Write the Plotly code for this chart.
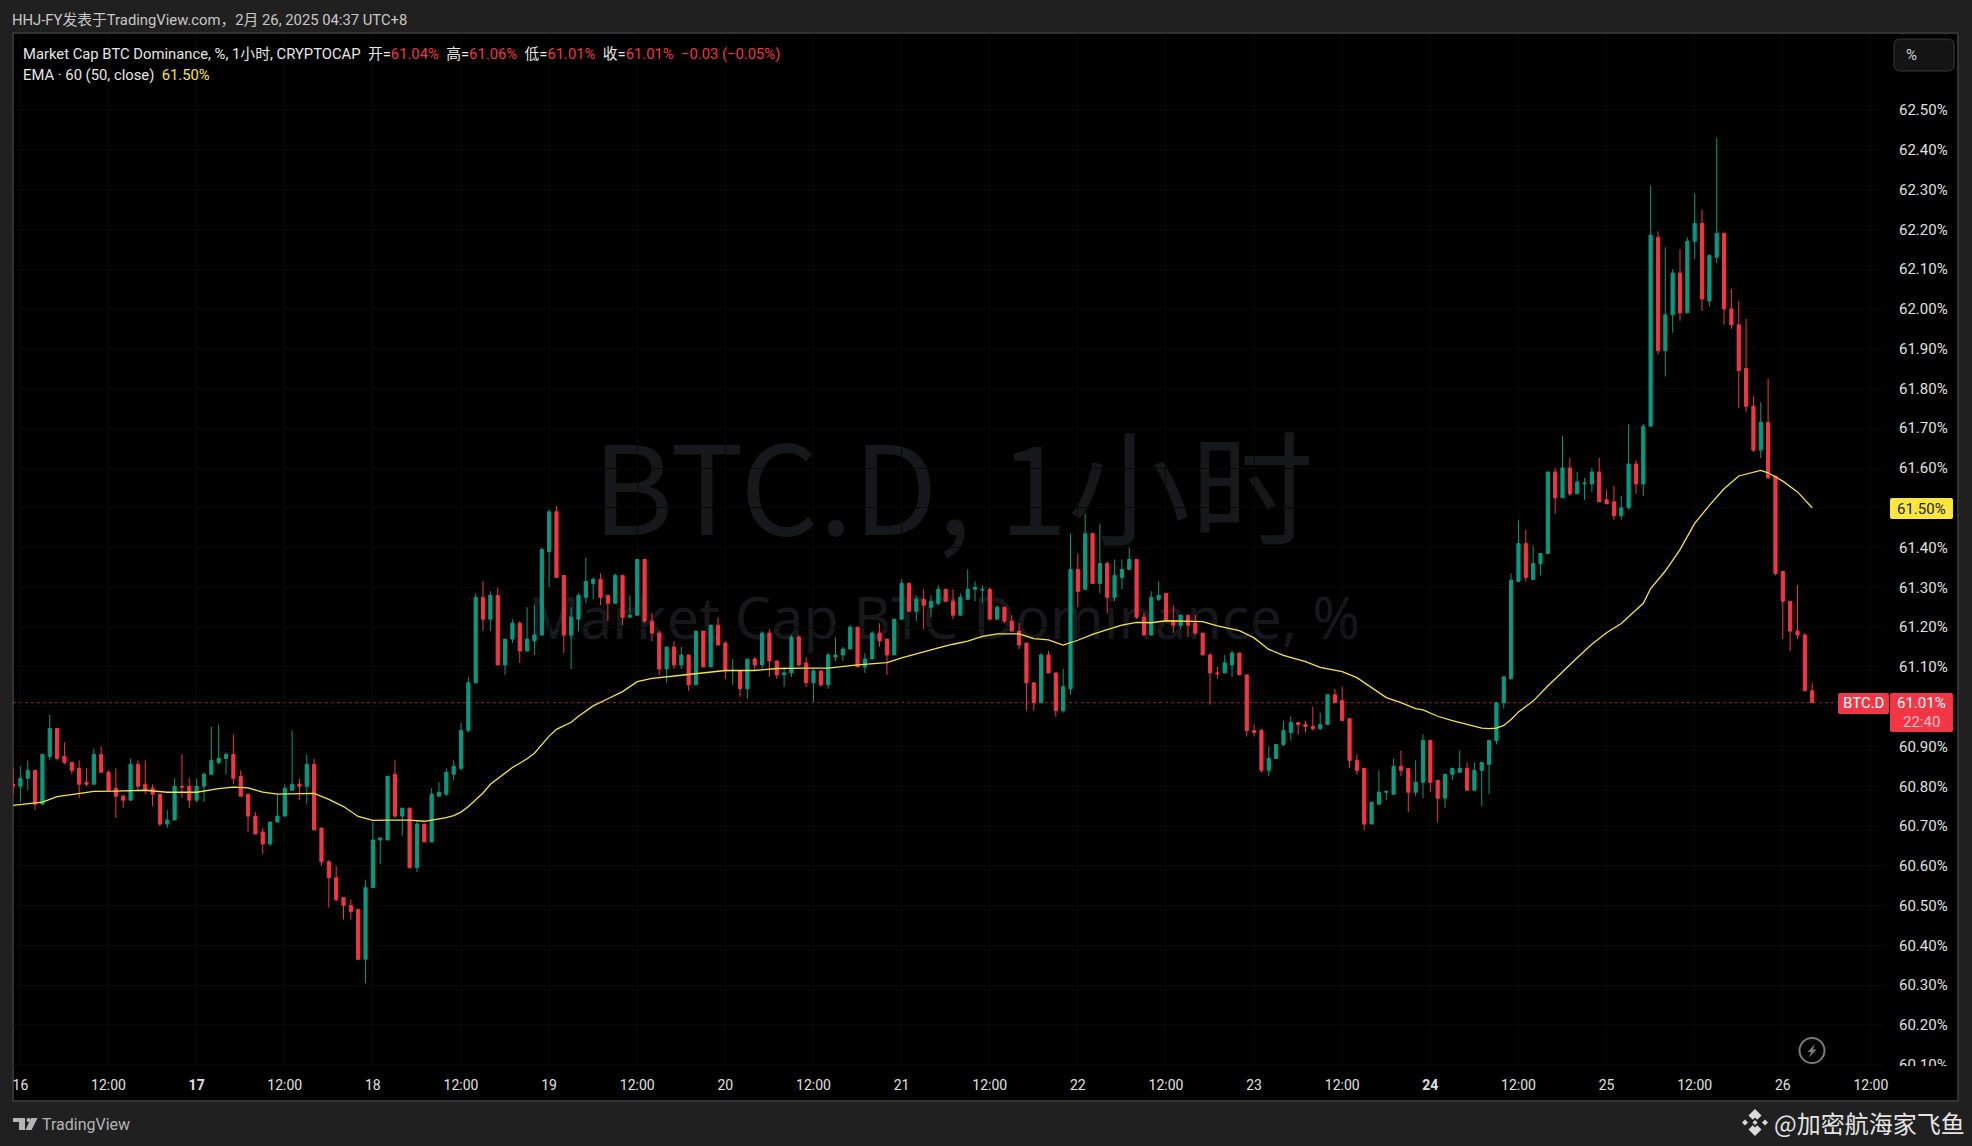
import pandas as pd
import plotly.graph_objects as go

opens = [
 60.805,60.80,60.82,60.84,60.755,60.875,60.945,60.875,60.86,60.845,
 60.81,60.805,60.88,60.835,60.795,60.775,60.765,60.855,60.805,60.795,
 60.78,60.705,60.715,60.80,60.80,60.765,60.80,60.83,60.86,60.87,
 60.88,60.825,60.78,60.725,60.685,60.655,60.71,60.725,60.79,60.805,
 60.80,60.855,60.695,60.61,60.57,60.52,60.50,60.49,60.365,60.545,
 60.665,60.665,60.83,60.725,60.745,60.595,60.705,60.66,60.775,60.78,
 60.83,60.845,60.94,61.06,61.275,61.22,61.28,61.105,61.17,61.21,
 61.14,61.165,61.18,61.39,61.49,61.33,61.18,61.22,61.275,61.31,
 61.32,61.28,61.26,61.33,61.225,61.23,61.37,61.215,61.185,61.095,
 61.15,61.105,61.13,61.055,61.19,61.10,61.205,61.16,61.09,61.09,
 61.045,61.12,61.105,61.185,61.115,61.08,61.085,61.175,61.11,61.06,
 61.09,61.055,61.125,61.13,61.145,61.20,61.10,61.12,61.185,61.17,
 61.13,61.22,61.31,61.24,61.27,61.25,61.26,61.295,61.265,61.23,
 61.27,61.295,61.293,61.295,61.22,61.25,61.215,61.19,61.16,61.06,
 61.01,61.13,61.085,60.99,61.045,61.345,61.295,61.435,61.31,61.36,
 61.275,61.325,61.345,61.37,61.225,61.18,61.27,61.285,61.215,61.205,
 61.23,61.21,61.185,61.13,61.085,61.085,61.105,61.135,61.08,60.94,
 60.94,60.84,60.87,60.905,60.935,60.96,60.955,60.95,60.945,60.955,
 61.03,61.015,60.97,60.865,60.845,60.705,60.755,60.785,60.78,60.85,
 60.845,60.785,60.81,60.915,60.815,60.77,60.83,60.835,60.845,60.79,
 60.84,60.855,60.915,61.01,61.07,61.315,61.41,61.32,61.36,61.385,
 61.59,61.525,61.60,61.535,61.56,61.56,61.59,61.52,61.515,61.48,
 61.50,61.61,61.56,61.705,62.18,61.895,61.985,62.09,61.99,62.17,
 62.215,62.02,62.13,62.19,62.00,61.96,61.85,61.755,61.645,61.715,
 61.58,61.34,61.265,61.19,61.18,61.04]

highs = [
 60.845,60.85,60.865,60.84,60.88,60.98,60.945,60.91,60.86,60.865,
 60.845,60.895,60.90,60.84,60.845,60.78,60.87,60.865,60.865,60.805,
 60.78,60.74,60.82,60.88,60.82,60.82,60.835,60.95,60.955,60.885,
 60.93,60.84,60.78,60.735,60.695,60.71,60.78,60.805,60.94,60.82,
 60.88,60.87,60.695,60.615,60.60,60.52,60.515,60.49,60.565,60.71,
 60.67,60.825,60.865,60.745,60.745,60.715,60.705,60.795,60.81,60.845,
 60.865,60.96,61.075,61.285,61.315,61.29,61.30,61.17,61.22,61.215,
 61.25,61.255,61.40,61.495,61.505,61.33,61.25,61.285,61.375,61.325,
 61.335,61.28,61.335,61.33,61.28,61.37,61.37,61.235,61.19,61.15,
 61.165,61.15,61.13,61.19,61.19,61.205,61.225,61.165,61.12,61.09,
 61.12,61.125,61.19,61.195,61.115,61.10,61.18,61.18,61.125,61.095,
 61.09,61.135,61.175,61.15,61.205,61.20,61.135,61.19,61.21,61.17,
 61.22,61.32,61.31,61.28,61.295,61.28,61.305,61.295,61.295,61.285,
 61.345,61.315,61.305,61.30,61.255,61.25,61.23,61.21,61.16,61.06,
 61.135,61.14,61.085,61.095,61.435,61.385,61.485,61.435,61.46,61.365,
 61.37,61.37,61.40,61.37,61.235,61.29,61.315,61.285,61.255,61.23,
 61.23,61.23,61.185,61.135,61.10,61.13,61.14,61.135,61.08,60.955,
 60.945,60.90,60.905,60.965,60.975,60.96,60.965,61.00,60.985,61.03,
 61.045,61.05,60.97,60.88,60.845,60.76,60.84,60.79,60.87,60.89,
 60.845,60.865,60.93,60.915,60.815,60.83,60.845,60.89,60.86,60.86,
 60.86,60.915,61.01,61.075,61.335,61.47,61.445,61.405,61.385,61.59,
 61.60,61.68,61.625,61.59,61.575,61.60,61.625,61.545,61.555,61.53,
 61.71,61.62,61.71,62.31,62.195,62.155,62.10,62.15,62.18,62.29,
 62.25,62.135,62.43,62.19,62.05,62.02,61.975,61.78,61.765,61.825,
 61.58,61.34,61.265,61.305,61.185,61.06]

lows = [
 60.78,60.76,60.79,60.74,60.755,60.865,60.865,60.855,60.83,60.77,
 60.80,60.805,60.835,60.79,60.72,60.745,60.765,60.79,60.78,60.75,
 60.70,60.695,60.715,60.77,60.745,60.76,60.76,60.83,60.855,60.83,
 60.805,60.775,60.685,60.68,60.63,60.65,60.71,60.725,60.79,60.765,
 60.755,60.69,60.60,60.495,60.51,60.465,60.465,60.365,60.305,60.545,
 60.605,60.665,60.72,60.675,60.595,60.585,60.66,60.66,60.775,60.775,
 60.815,60.84,60.935,61.06,61.19,61.19,61.105,61.08,61.16,61.11,
 61.14,61.13,61.18,61.30,61.325,61.135,61.095,61.19,61.26,61.27,
 61.255,61.215,61.26,61.205,61.225,61.23,61.21,61.165,61.08,61.06,
 61.095,61.095,61.04,61.055,61.10,61.10,61.155,61.07,61.055,61.025,
 61.02,61.09,61.095,61.075,61.07,61.05,61.075,61.10,61.05,61.01,
 61.05,61.045,61.115,61.115,61.145,61.10,61.085,61.12,61.15,61.08,
 61.13,61.22,61.24,61.215,61.195,61.225,61.255,61.265,61.22,61.23,
 61.27,61.265,61.26,61.22,61.22,61.21,61.19,61.145,60.99,60.99,
 61.01,61.085,60.975,60.985,61.03,61.25,61.295,61.31,61.285,61.235,
 61.265,61.295,61.345,61.22,61.18,61.18,61.265,61.215,61.185,61.195,
 61.175,61.18,61.13,61.005,61.07,61.085,61.075,61.08,60.925,60.925,
 60.835,60.825,60.87,60.90,60.915,60.93,60.935,60.94,60.94,60.955,
 61.01,60.965,60.845,60.83,60.69,60.705,60.755,60.765,60.78,60.825,
 60.735,60.775,60.77,60.785,60.71,60.745,60.815,60.835,60.79,60.79,
 60.75,60.78,60.905,60.995,61.07,61.315,61.315,61.32,61.33,61.385,
 61.485,61.525,61.53,61.535,61.52,61.54,61.515,61.51,61.47,61.47,
 61.495,61.535,61.53,61.705,61.885,61.83,61.94,61.97,61.99,62.125,
 61.995,62.005,62.115,61.96,61.95,61.75,61.74,61.64,61.625,61.575,
 61.33,61.17,61.14,61.17,61.04,61.01]

closes = [
 60.80,60.82,60.84,60.755,60.88,60.945,60.87,60.86,60.84,60.805,
 60.805,60.88,60.835,60.79,60.775,60.765,60.855,60.80,60.79,60.78,
 60.705,60.715,60.80,60.798,60.765,60.80,60.83,60.865,60.87,60.88,
 60.82,60.775,60.725,60.68,60.655,60.71,60.725,60.795,60.805,60.80,
 60.855,60.69,60.61,60.57,60.515,60.50,60.485,60.365,60.545,60.665,
 60.67,60.825,60.725,60.745,60.595,60.705,60.66,60.78,60.785,60.835,
 60.85,60.94,61.06,61.275,61.22,61.28,61.105,61.17,61.21,61.14,
 61.17,61.18,61.395,61.49,61.325,61.18,61.225,61.28,61.315,61.32,
 61.275,61.26,61.33,61.225,61.23,61.37,61.215,61.185,61.095,61.15,
 61.105,61.13,61.055,61.19,61.10,61.205,61.155,61.09,61.092,61.045,
 61.12,61.105,61.185,61.115,61.08,61.085,61.175,61.105,61.06,61.09,
 61.055,61.13,61.13,61.145,61.20,61.10,61.12,61.185,61.165,61.13,
 61.22,61.31,61.24,61.27,61.255,61.265,61.295,61.265,61.23,61.275,
 61.295,61.30,61.295,61.22,61.25,61.215,61.19,61.155,61.06,61.01,
 61.13,61.085,60.99,61.05,61.345,61.29,61.435,61.31,61.36,61.275,
 61.33,61.345,61.37,61.225,61.18,61.275,61.28,61.215,61.205,61.23,
 61.205,61.185,61.13,61.085,61.083,61.11,61.135,61.08,60.94,60.935,
 60.84,60.87,60.905,60.94,60.96,60.955,60.95,60.945,60.955,61.03,
 61.01,60.965,60.865,60.84,60.705,60.76,60.785,60.787,60.85,60.84,
 60.785,60.81,60.915,60.81,60.77,60.83,60.845,60.845,60.79,60.84,
 60.86,60.915,61.01,61.075,61.318,61.41,61.325,61.36,61.385,61.59,
 61.525,61.60,61.535,61.565,61.562,61.59,61.515,61.51,61.48,61.50,
 61.61,61.56,61.705,62.185,61.895,61.985,62.09,61.99,62.17,62.215,
 62.025,62.135,62.19,62.00,61.96,61.845,61.755,61.645,61.715,61.575,
 61.335,61.265,61.19,61.18,61.04,61.01]

ema_hours = [
 -1,3,5,8,10,13,17,20,24,27,29,31,33,35,38,40,42,44,46,48,50,53,55,57,58,59,60,61,62,63,64,65,66,67,68,69,70,71,72,
 73,74,75,76,78,80,82,84,86,90,93,96,100,103,107,110,114,118,120,123,125,127,129,131,133,136,138,140,142,144,146,
 148,150,152,154,156,159,161,163,166,168,170,172,175,177,180,182,184,186,188,190,191,193,195,197,199,200,201,202,
 203,204,206,208,210,212,214,216,218,220,221,222,224,226,228,230,232,234,236,237,238,240,242,244]
ema_values = [
 60.752,60.76,60.774,60.781,60.787,60.788,60.79,60.785,60.785,60.794,60.798,60.796,60.785,60.78,60.782,60.782,60.767,
 60.749,60.724,60.714,60.715,60.715,60.712,60.717,60.721,60.726,60.735,60.749,60.767,60.783,60.805,60.819,60.832,
 60.847,60.858,60.869,60.883,60.905,60.926,
 60.943,60.951,60.961,60.976,61.002,61.02,61.038,61.063,61.071,61.079,61.085,61.091,61.091,61.096,61.097,61.097,
 61.105,61.111,61.123,61.139,61.148,61.157,61.165,61.177,61.183,61.183,61.171,61.168,61.155,61.167,61.182,
 61.194,61.205,61.212,61.211,61.216,61.215,61.214,61.203,61.191,61.173,61.144,61.129,61.113,61.099,61.088,61.073,
 61.048,61.023,61.01,60.995,60.992,60.976,60.965,60.955,60.946,60.945,60.946,60.953,
 60.968,60.987,61.014,61.052,61.088,61.123,61.157,61.186,61.209,61.242,61.26,61.297,61.341,61.395,61.461,61.506,
 61.548,61.58,61.59,61.594,61.588,61.567,61.54,61.50]

price_ticks = [60.1,60.2,60.3,60.4,60.5,60.6,60.7,60.8,60.9,61.0,61.1,61.2,61.3,61.4,61.5,
               61.6,61.7,61.8,61.9,62.0,62.1,62.2,62.3,62.4,62.5]
# 61.00% and 61.50% sit under the price tags in the reference, so they carry no axis text
price_labels = ["60.10%","60.20%","60.30%","60.40%","60.50%","60.60%","60.70%","60.80%","60.90%","",
                "61.10%","61.20%","61.30%","61.40%","",
                "61.60%","61.70%","61.80%","61.90%","62.00%",
                "62.10%","62.20%","62.30%","62.40%","62.50%"]
last_price = 61.01
day_labels = ["16", "<b>17</b>", "18", "19", "20", "21", "22", "23", "<b>24</b>", "25", "26"]

start = pd.Timestamp("2025-02-15 23:00")
times = [start + pd.Timedelta(hours=i) for i in range(len(opens))]
ema_times = [pd.Timestamp("2025-02-16 00:00") + pd.Timedelta(hours=h) for h in ema_hours]

tickvals, ticktext = [], []
for i, lab in enumerate(day_labels):
    d = pd.Timestamp("2025-02-16") + pd.Timedelta(days=i)
    tickvals += [d, d + pd.Timedelta(hours=12)]
    ticktext += [lab, "12:00"]

# canvas geometry
W, H = 1972, 1146
L, R, T, B = 13, 1885, 34, 1066
fx = lambda x: (x - L) / (R - L)
fy = lambda y: (B - y) / (B - T)

RED, GREEN, YEL = "#f23645", "#089981", "#f8e53c"
FONT = "Roboto, 'Noto Sans CJK SC', sans-serif"
CJK = "'Noto Sans CJK SC', Roboto, sans-serif"

fig = go.Figure()
fig.add_trace(go.Candlestick(
    x=times, open=opens, high=highs, low=lows, close=closes,
    increasing=dict(line=dict(color=GREEN, width=1), fillcolor=GREEN),
    decreasing=dict(line=dict(color=RED, width=1), fillcolor=RED),
    hoverinfo="skip", showlegend=False))
fig.add_trace(go.Scatter(x=ema_times, y=ema_values, mode="lines",
                         line=dict(color=YEL, width=1.3), hoverinfo="skip", showlegend=False))

def rect(x0, y0, x1, y1, **kw):
    return dict(type="rect", xref="paper", yref="paper",
                x0=fx(x0), x1=fx(x1), y0=fy(y1), y1=fy(y0), **kw)

def poly(points, close=True):
    d = "M" + "L".join(f"{fx(x):.5f},{fy(y):.5f}" for x, y in points) + ("Z" if close else "")
    return d

def rrect(x0, y0, x1, y1, r):
    return (f"M{fx(x0+r):.5f},{fy(y0):.5f}L{fx(x1-r):.5f},{fy(y0):.5f}"
            f"Q{fx(x1):.5f},{fy(y0):.5f} {fx(x1):.5f},{fy(y0+r):.5f}"
            f"L{fx(x1):.5f},{fy(y1-r):.5f}Q{fx(x1):.5f},{fy(y1):.5f} {fx(x1-r):.5f},{fy(y1):.5f}"
            f"L{fx(x0+r):.5f},{fy(y1):.5f}Q{fx(x0):.5f},{fy(y1):.5f} {fx(x0):.5f},{fy(y1-r):.5f}"
            f"L{fx(x0):.5f},{fy(y0+r):.5f}Q{fx(x0):.5f},{fy(y0):.5f} {fx(x0+r):.5f},{fy(y0):.5f}Z")

WM = "#17181b"
shapes = [
    # chart pane
    rect(13, 33, 1958, 1101, fillcolor="#000000", line=dict(color="#333333", width=2), layer="below"),
    # watermarks, below the candles
    rect(13, 441, 1893, 561, fillcolor="rgba(0,0,0,0)", line=dict(width=0), layer="below",
         label=dict(text="BTC.D, 1小时", textposition="middle center",
                    font=dict(family=CJK, size=123, color=WM))),
    rect(13, 585, 1875, 655, fillcolor="rgba(0,0,0,0)", line=dict(width=0), layer="below",
         label=dict(text="Market Cap BTC Dominance, %", textposition="middle center",
                    font=dict(family="'Noto Sans', sans-serif", size=57.5, color=WM))),
    # last price line
    dict(type="line", xref="paper", yref="y", x0=0, x1=fx(1838), y0=last_price, y1=last_price,
         line=dict(color="rgba(242,54,69,0.65)", width=1, dash="dot"), layer="below"),
    # hides the lower half of the lowest price label
    rect(1897, 1066, 1956, 1099, fillcolor="#000000", line=dict(width=0), layer="above"),
    # price tags
    dict(type="path", xref="paper", yref="paper", path=rrect(1890, 498, 1953, 519, 2), fillcolor="#fbe63f", line=dict(width=0)),
    dict(type="path", xref="paper", yref="paper", path=rrect(1890, 693, 1953, 732, 2), fillcolor=RED, line=dict(width=0)),
    dict(type="path", xref="paper", yref="paper", path=rrect(1838, 693, 1889, 714, 2), fillcolor=RED, line=dict(width=0)),
    # % button
    dict(type="path", xref="paper", yref="paper", path=rrect(1894, 39, 1954, 71, 6), fillcolor="#141414",
         line=dict(color="#3a3a3a", width=1)),
    # bolt icon
    dict(type="circle", xref="paper", yref="paper", x0=fx(1799.5), x1=fx(1824.5), y0=fy(1063), y1=fy(1038),
         fillcolor="rgba(0,0,0,0)", line=dict(color="#7a7a7a", width=2)),
    dict(type="path", xref="paper", yref="paper", fillcolor="#7a7a7a", line=dict(width=0),
         path=poly([(1815, 1044), (1807.5, 1052), (1811, 1052), (1809, 1057.5), (1816.5, 1049.5), (1813, 1049.5)])),
    # TradingView mark
    dict(type="path", xref="paper", yref="paper", fillcolor="#b4b4b4", line=dict(width=0),
         path=poly([(13, 1118), (25, 1118), (25, 1130), (19, 1130), (19, 1122), (13, 1122)])),
    dict(type="circle", xref="paper", yref="paper", x0=fx(26.5), x1=fx(30.5), y0=fy(1122), y1=fy(1118),
         fillcolor="#b4b4b4", line=dict(width=0)),
    dict(type="path", xref="paper", yref="paper", fillcolor="#b4b4b4", line=dict(width=0),
         path=poly([(31, 1118), (37.5, 1118), (31.5, 1130), (25.5, 1130)])),
]
# Binance-style diamond mark
for cx, cy, r in [(1755, 1115.5, 6.5), (1755, 1129.5, 6.5), (1745, 1122.5, 3), (1765, 1122.5, 3)]:
    pts = [(cx, cy - r), (cx + r, cy), (cx, cy + r), (cx - r, cy)]
    shapes.append(dict(type="path", xref="paper", yref="paper", fillcolor="#d9d9d9", line=dict(width=0), path=poly(pts)))
shapes.append(dict(type="path", xref="paper", yref="paper", fillcolor="#202020", line=dict(width=0),
                   path=poly([(1755, 1117.5), (1760, 1122.5), (1755, 1127.5), (1750, 1122.5)])))
shapes.append(dict(type="path", xref="paper", yref="paper", fillcolor="#d9d9d9", line=dict(width=0),
                   path=poly([(1755, 1120), (1757.5, 1122.5), (1755, 1125), (1752.5, 1122.5)])))

def note(x, y, text, size=15, color="#d1d4dc", anchor="left", family=FONT):
    return dict(xref="paper", yref="paper", x=fx(x), y=fy(y), text=text, showarrow=False,
                xanchor=anchor, yanchor="middle", align=anchor,
                font=dict(family=family, size=size, color=color))

r = lambda s: f'<span style="color:{RED}">{s}</span>'
legend1 = ("Market Cap BTC Dominance, %, 1小时, CRYPTOCAP  开=" + r("61.04%") + "  高=" + r("61.06%")
           + "  低=" + r("61.01%") + "  收=" + r("61.01%") + "  " + r("−0.03 (−0.05%)"))
legend2 = f'EMA · 60 (50, close)  <span style="color:{YEL}">61.50%</span>'

annotations = [
    note(10, 20, "HHJ-FY发表于TradingView.com，2月 26, 2025 04:37 UTC+8", size=14.8, color="#c8c8c8"),
    note(21, 54, legend1, size=14.8, color="#e6e6e6"),
    note(21, 75, legend2, size=14.8, color="#e6e6e6"),
    note(1904, 55, "%", color="#d1d4dc"),
    note(1921.5, 508.5, "61.50%", color="#222222", anchor="center"),
    note(1921.5, 703.5, "61.01%", color="#ffffff", anchor="center"),
    note(1921.5, 722, "22:40", color="#fbc5ca", anchor="center"),
    note(1863.5, 703.5, "BTC.D", color="#ffffff", anchor="center"),
    note(40, 1124, "TradingView", size=16, color="#b4b4b4"),
    note(1772, 1122, "@加密航海家飞鱼", size=24, color="#e4e4e4", family=CJK),
]

fig.update_layout(
    width=W, height=H, margin=dict(l=L, r=W - R, t=T, b=H - B, pad=0, autoexpand=False),
    paper_bgcolor="#202020", plot_bgcolor="rgba(0,0,0,0)",
    font=dict(family=FONT, size=14, color="#d1d4dc"),
    showlegend=False, boxgap=0.38, shapes=shapes, annotations=annotations,
    xaxis=dict(type="date", range=["2025-02-15 22:59:30", "2025-02-26 13:55:00"],
               rangeslider=dict(visible=False), tickmode="array", tickvals=tickvals, ticktext=ticktext,
               showgrid=True, gridcolor="#080808", gridwidth=1, zeroline=False, showline=False,
               ticks="outside", ticklen=6, tickcolor="rgba(0,0,0,0)", tickangle=0,
               tickfont=dict(family=FONT, size=14, color="#e0e0e0"), automargin=False, layer="below traces"),
    yaxis=dict(side="right", range=[60.0968, 62.691], tickmode="array", tickvals=price_ticks, ticktext=price_labels,
               showgrid=True, gridcolor="#080808", gridwidth=1, zeroline=False, showline=False,
               ticks="outside", ticklen=10, tickcolor="rgba(0,0,0,0)",
               tickfont=dict(family=FONT, size=15, color="#e0e0e0"), automargin=False, layer="below traces"),
)

fig.write_html("out.html", config={"displayModeBar": False},
               post_script="document.body.style.margin='0';document.body.style.background='#202020';document.body.style.overflow='hidden';")
